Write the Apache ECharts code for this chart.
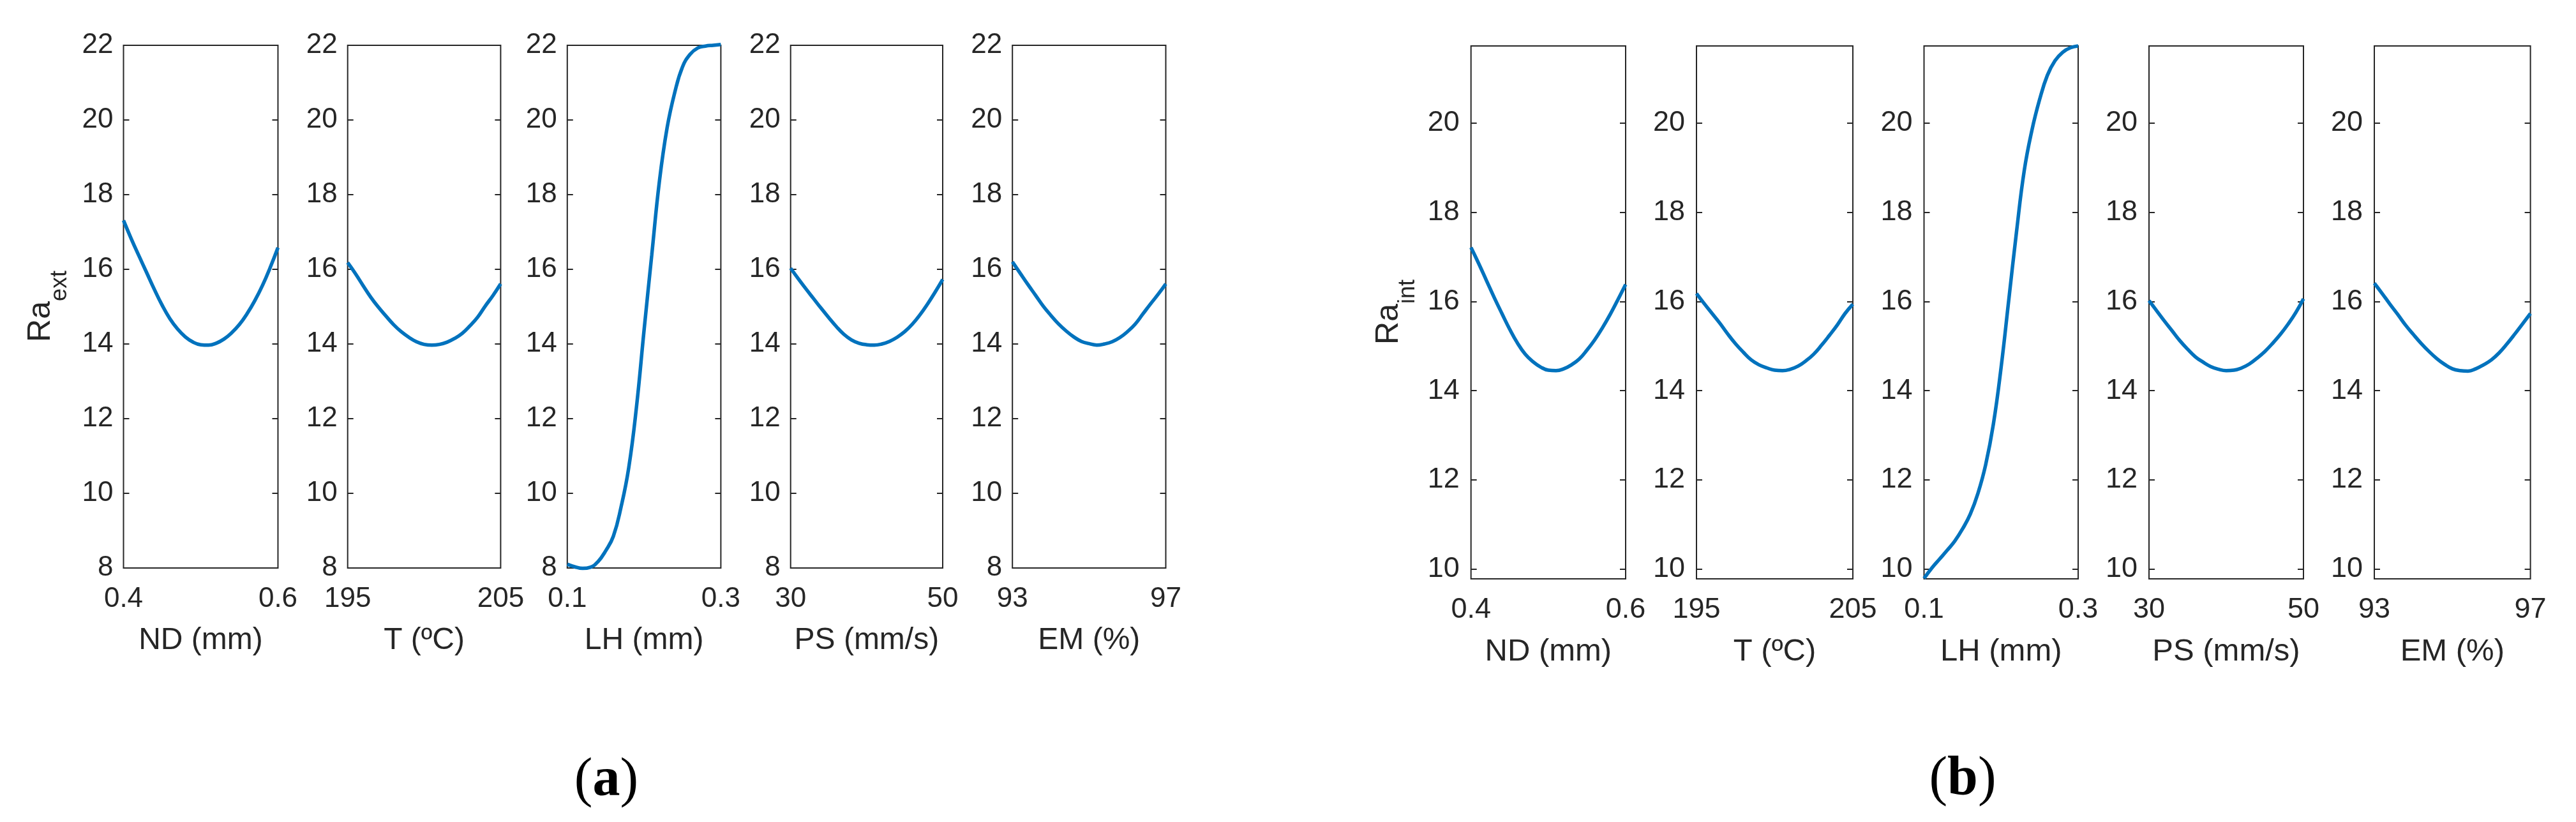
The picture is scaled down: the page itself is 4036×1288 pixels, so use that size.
<!DOCTYPE html>
<html>
<head>
<meta charset="utf-8">
<script src="https://cdn.jsdelivr.net/npm/echarts@6.0.0/dist/echarts.min.js"></script>
<style>
html,body{margin:0;padding:0;background:#fff;}
#chart{width:4036px;height:1288px;}
</style>
</head>
<body>
<div id="chart"></div>
<script>
// ---- x positions (factor levels) ----
const ndX = [0.40,0.41,0.42,0.43,0.44,0.45,0.46,0.47,0.48,0.49,0.50,0.51,0.52,0.53,0.54,0.55,0.56,0.57,0.58,0.59,0.60];
const tX  = [195,195.5,196,196.5,197,197.5,198,198.5,199,199.5,200,200.5,201,201.5,202,202.5,203,203.5,204,204.5,205];
const lhX = [0.10,0.11,0.12,0.13,0.14,0.15,0.16,0.17,0.18,0.19,0.20,0.21,0.22,0.23,0.24,0.25,0.26,0.27,0.28,0.29,0.30];
const psX = [30,31,32,33,34,35,36,37,38,39,40,41,42,43,44,45,46,47,48,49,50];
const emX = [93,93.2,93.4,93.6,93.8,94,94.2,94.4,94.6,94.8,95,95.2,95.4,95.6,95.8,96,96.2,96.4,96.6,96.8,97];

// ---- (a) Ra_ext ----
const extND = [17.31,16.82,16.36,15.91,15.46,15.04,14.68,14.40,14.19,14.05,13.98,13.97,14.02,14.13,14.30,14.52,14.81,15.16,15.57,16.05,16.58];
const extT  = [16.18,15.89,15.57,15.26,14.99,14.75,14.52,14.33,14.18,14.06,13.99,13.97,13.99,14.05,14.15,14.29,14.49,14.72,15.02,15.30,15.61];
const extLH = [8.10,8.03,7.99,8.02,8.17,8.46,8.85,9.63,10.68,12.29,14.37,16.38,18.36,19.79,20.74,21.42,21.76,21.93,21.98,22.00,22.02];
const extPS = [16.03,15.75,15.48,15.22,14.96,14.71,14.47,14.26,14.11,14.02,13.98,13.97,14.00,14.07,14.18,14.33,14.53,14.78,15.07,15.39,15.73];
const extEM = [16.20,15.90,15.60,15.31,15.02,14.77,14.54,14.35,14.19,14.07,14.01,13.97,14.00,14.06,14.17,14.33,14.53,14.80,15.07,15.33,15.61];

// ---- (b) Ra_int ----
const intND = [17.21,16.85,16.47,16.09,15.73,15.38,15.07,14.82,14.65,14.53,14.46,14.45,14.49,14.58,14.71,14.91,15.14,15.41,15.71,16.04,16.38];
const intT  = [16.18,15.95,15.73,15.51,15.27,15.05,14.86,14.69,14.58,14.51,14.46,14.45,14.48,14.55,14.67,14.82,15.02,15.24,15.47,15.73,15.94];
const intLH = [9.79,10.02,10.22,10.42,10.63,10.90,11.23,11.70,12.34,13.25,14.52,16.04,17.56,18.93,19.84,20.53,21.07,21.40,21.59,21.69,21.73];
const intPS = [16.02,15.79,15.56,15.34,15.12,14.93,14.76,14.64,14.54,14.48,14.45,14.46,14.51,14.60,14.73,14.88,15.06,15.26,15.49,15.75,16.06];
const intEM = [16.41,16.18,15.94,15.71,15.47,15.26,15.06,14.88,14.72,14.59,14.49,14.45,14.44,14.49,14.58,14.69,14.85,15.05,15.27,15.50,15.73];

// ---- axis texts / ticks ----
const xTitles = ['ND (mm)', 'T (ºC)', 'LH (mm)', 'PS (mm/s)', 'EM (%)'];
const xTickLabels = [[0.4, 0.6], [195, 205], [0.1, 0.3], [30, 50], [93, 97]];
const yTicksExt = [8, 10, 12, 14, 16, 18, 20, 22];
const yTicksInt = [10, 12, 14, 16, 18, 20];
const yRangeExt = [8, 22];
const yRangeInt = [9.78, 21.73];
const panelLabels = ['a', 'b'];

const xsAll = [ndX, tX, lhX, psX, emX];
const extAll = [extND, extT, extLH, extPS, extEM];
const intAll = [intND, intT, intLH, intPS, intEM];

// ---- layout (pixels) ----
const FONT = '"Liberation Sans", Arial, Helvetica, sans-serif';
const AX = '#262626';
const LINE = '#0072BD';
const layoutA = {left:[193.5,544.7,888.8,1238.7,1586.2], width:[242,239.7,240.6,238.3,240.3], top:71, bottom:890, tick:44, title:48, lblMargin:27, nameGap:90, yMargin:16};
const layoutB = {left:[2304.7,2658,3014.5,3367,3720], width:[242.3,245,241.5,242,244.6], top:72, bottom:907, tick:45, title:49, lblMargin:26, nameGap:90, yMargin:18};

const option = {animation:false, backgroundColor:'#fff', grid:[], xAxis:[], yAxis:[], series:[], graphic:[]};

function addGroup(layout, ysAll, yTicks, yRange) {
  for (let i = 0; i < 5; i++) {
    const g = option.grid.length;
    option.grid.push({left:layout.left[i], top:layout.top, width:layout.width[i], height:layout.bottom-layout.top,
      show:true, borderColor:AX, borderWidth:2, backgroundColor:'#fff', containLabel:false, outerBoundsMode:'none'});
    const xr = xTickLabels[i];
    option.xAxis.push({gridIndex:g, type:'value', min:xr[0], max:xr[1],
      axisLine:{show:false}, axisTick:{show:false}, splitLine:{show:false},
      axisLabel:{customValues:xr, margin:layout.lblMargin, fontSize:layout.tick, color:AX, fontFamily:FONT, formatter:(v)=>String(v)},
      name:xTitles[i], nameLocation:'middle', nameGap:layout.nameGap,
      nameTextStyle:{fontSize:layout.title, color:AX, fontFamily:FONT}});
    const yi = option.yAxis.length;
    option.yAxis.push({gridIndex:g, type:'value', min:yRange[0], max:yRange[1], position:'left',
      axisLine:{show:false}, splitLine:{show:false},
      axisTick:{show:true, inside:true, length:9, lineStyle:{color:AX, width:2}, customValues:yTicks},
      axisLabel:{customValues:yTicks, margin:layout.yMargin, fontSize:layout.tick, color:AX, fontFamily:FONT}});
    option.yAxis.push({gridIndex:g, type:'value', min:yRange[0], max:yRange[1], position:'right',
      axisLine:{show:false}, splitLine:{show:false},
      axisTick:{show:true, inside:true, length:9, lineStyle:{color:AX, width:2}, customValues:yTicks},
      axisLabel:{show:false}});
    const xs = xsAll[i], ys = ysAll[i];
    option.series.push({type:'line', xAxisIndex:g, yAxisIndex:yi, showSymbol:false, smooth:0.45, clip:false,
      lineStyle:{color:LINE, width:5.5}, data:xs.map((x, k) => [x, ys[k]])});
  }
}
addGroup(layoutA, extAll, yTicksExt, yRangeExt);
addGroup(layoutB, intAll, yTicksInt, yRangeInt);

function yLabel(x, y, sub) {
  return {type:'text', x:x, y:y, rotation:Math.PI/2, z:10,
    style:{text:'{m|Ra}{s|' + sub + '}', align:'center', verticalAlign:'middle', textAlign:'center', textVerticalAlign:'middle',
      rich:{m:{fontSize:50, lineHeight:96, fontFamily:FONT, fill:AX},
            s:{fontSize:36, lineHeight:36, verticalAlign:'bottom', fontFamily:FONT, fill:AX}}}};
}
option.graphic.push(yLabel(64.5, 480, 'ext'));
option.graphic.push(yLabel(2176.5, 489, 'int'));

function panelTag(x, y, letter) {
  return {type:'text', x:x, y:y, z:10,
    style:{text:'{p|(}{b|' + letter + '}{p|)}', align:'center', verticalAlign:'middle', textAlign:'center', textVerticalAlign:'middle',
      rich:{p:{fontSize:86, fontFamily:'"Liberation Serif", "DejaVu Serif", serif', fill:'#000'},
            b:{fontSize:86, fontWeight:'bold', fontFamily:'"Liberation Serif", "DejaVu Serif", serif', fill:'#000'}}}};
}
option.graphic.push(panelTag(950, 1224, panelLabels[0]));
option.graphic.push(panelTag(3075, 1222, panelLabels[1]));

const chart = echarts.init(document.getElementById('chart'), null, {renderer:'canvas'});
chart.setOption(option);
</script>
</body>
</html>
